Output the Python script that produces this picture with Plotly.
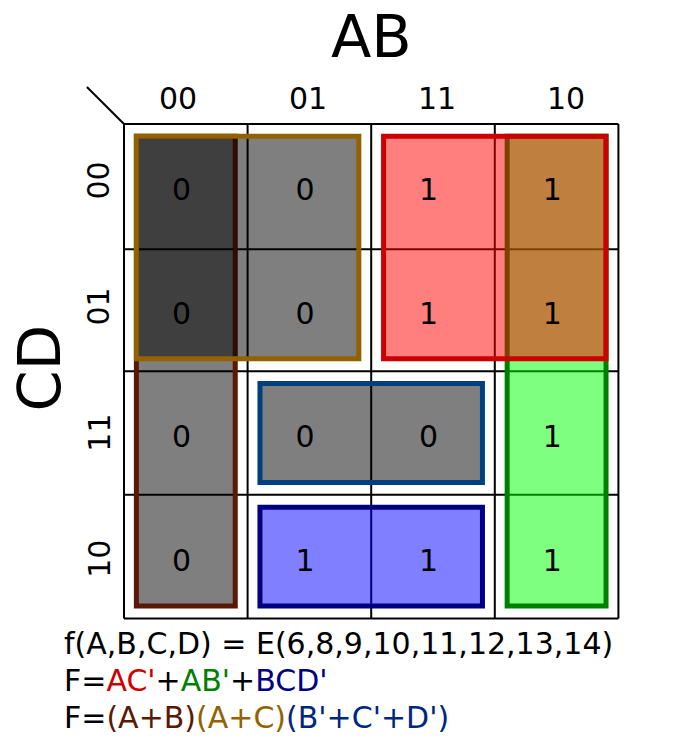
import plotly.graph_objects as go

# karnaugh map, axes are in cell units so 1 unit = 1 cell
col_labels = ["00", "01", "11", "10"]
row_labels = ["00", "01", "11", "10"]
# column order in the picture: 00 01 11 10, rows top to bottom
cell_values = [
    [0, 0, 1, 1],
    [0, 0, 1, 1],
    [0, 0, 0, 1],
    [0, 1, 1, 1],
]
col_edges = [0, 1, 2, 3, 4]
row_edges = [0, 1.013, 2, 3, 4]

BROWN = "#5a1806"
GOLD = "#936200"
NAVY = "#004080"
BLUE = "#000080"
GREEN = "#008000"
RED = "#cc0000"

# groups: first col, last col, first row, last row, line colour, fill colour
groups = [
    (0, 0, 0, 3, BROWN, "rgba(0,0,0,0.5)"),
    (0, 1, 0, 1, GOLD, "rgba(0,0,0,0.5)"),
    (1, 2, 2, 2, NAVY, "rgba(0,0,0,0.5)"),
    (1, 2, 3, 3, BLUE, "rgba(0,0,255,0.5)"),
    (3, 3, 0, 3, GREEN, "rgba(0,255,0,0.5)"),
    (2, 3, 0, 1, RED, "rgba(255,0,0,0.5)"),
]

formula_lines = [
    "f(A,B,C,D) = E(6,8,9,10,11,12,13,14)",
    f"F=<span style='color:{RED}'>AC'</span>+<span style='color:{GREEN}'>AB'</span>"
    f"+<span style='color:{BLUE}'>BCD'</span>",
    f"F=<span style='color:{BROWN}'>(A+B)</span><span style='color:{GOLD}'>(A+C)</span>"
    f"<span style='color:#00267f'>(B'+C'+D')</span>",
]

W, H = 680, 742
CELL = 123.6
LEFT, TOP = 124, 124
FONT = "DejaVu Sans"
INSET = 0.1

fig = go.Figure()

# grid + corner stroke
shapes = []
for e in col_edges:
    shapes.append(dict(type="line", x0=e, x1=e, y0=0, y1=4, line=dict(color="black", width=2), layer="below"))
for e in row_edges:
    shapes.append(dict(type="line", x0=0, x1=4, y0=e, y1=e, line=dict(color="black", width=2), layer="below"))
shapes.append(dict(type="line", x0=-0.3, x1=0, y0=-0.3, y1=0, line=dict(color="black", width=2), layer="below"))

for c0, c1, r0, r1, line_col, fill_col in groups:
    shapes.append(dict(type="rect", x0=c0 + INSET, x1=c1 + 1 - INSET, y0=r0 + INSET, y1=r1 + 1 - INSET,
                       line=dict(color=line_col, width=5), fillcolor=fill_col, layer="below"))

# cell values
xs, ys, texts = [], [], []
for r, row in enumerate(cell_values):
    for c, v in enumerate(row):
        xs.append(c + 0.5 - 0.035)
        ys.append(r + 0.5 + 0.055)
        texts.append(str(v))
fig.add_trace(go.Scatter(x=xs, y=ys, text=texts, mode="text", textposition="middle center",
                         textfont=dict(family=FONT, size=30, color="black"), hoverinfo="skip", showlegend=False))

annotations = []
for i, lab in enumerate(col_labels):
    annotations.append(dict(x=i + 0.44 + i * 0.045, y=-0.21, text=lab, showarrow=False, xref="x", yref="y",
                            font=dict(family=FONT, size=30, color="black")))
for i, lab in enumerate(row_labels):
    annotations.append(dict(x=-0.205, y=i + 0.46 + i * 0.02, text=lab, showarrow=False, xref="x", yref="y", textangle=-90,
                            font=dict(family=FONT, size=30, color="black")))
annotations.append(dict(x=2.0, y=-0.71, text="AB", showarrow=False, xref="x", yref="y",
                        font=dict(family=FONT, size=59, color="black")))
annotations.append(dict(x=-0.68, y=1.97, text="CD", showarrow=False, xref="x", yref="y", textangle=-90,
                        font=dict(family=FONT, size=59, color="black")))
for i, line in enumerate(formula_lines):
    annotations.append(dict(x=-0.5, y=4.2 + i * 0.3, text=line, showarrow=False, xref="x", yref="y", xanchor="left",
                            font=dict(family=FONT, size=30, color="black")))

fig.update_layout(
    width=W, height=H, margin=dict(l=0, r=0, t=0, b=0), autosize=False,
    paper_bgcolor="white", plot_bgcolor="white",
    shapes=shapes, annotations=annotations,
    xaxis=dict(range=[-LEFT / CELL, (W - LEFT) / CELL], visible=False, fixedrange=True),
    yaxis=dict(range=[(H - TOP) / CELL, -TOP / CELL], visible=False, fixedrange=True),
)

fig.write_html("out.html", config=dict(displayModeBar=False),
               post_script="document.body.style.margin='0';document.body.style.overflow='hidden';")
